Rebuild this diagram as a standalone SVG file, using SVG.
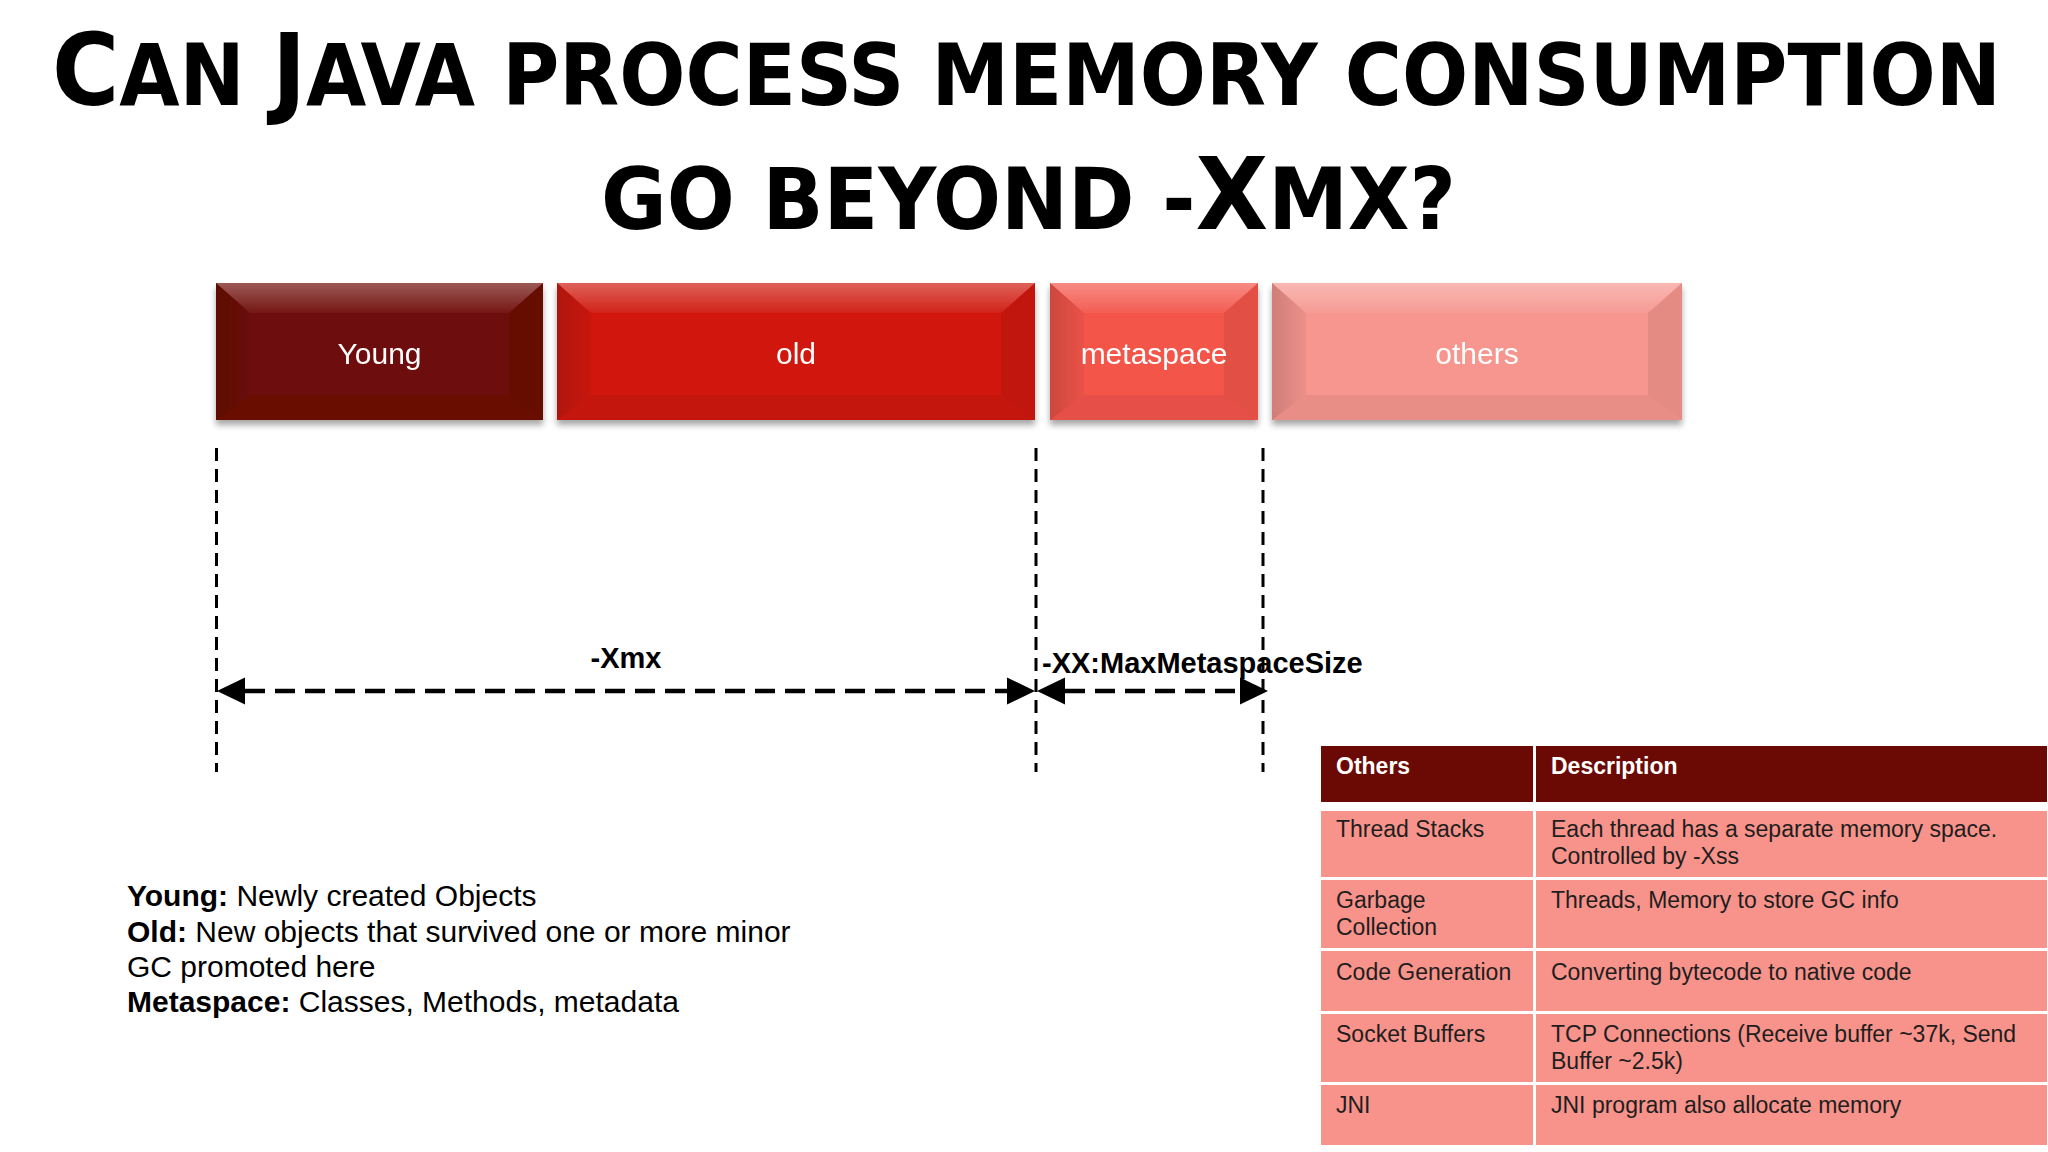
<svg xmlns="http://www.w3.org/2000/svg" width="2048" height="1152" viewBox="0 0 2048 1152">
<style>
.title{font-family:"DejaVu Sans Condensed","DejaVu Sans","Liberation Sans",sans-serif;font-stretch:condensed;font-weight:bold;text-transform:uppercase;fill:#000}
.big{font-size:100px}
.sm{font-size:85px}
.barlbl{font-family:"Liberation Sans",Arial,sans-serif;font-size:30px;fill:#fff;text-anchor:middle}
.bt{fill:url(#gTop)}
.bl{fill:url(#gLeft)}
.br{fill:#000;fill-opacity:.07}
.bb{fill:#000;fill-opacity:.05}
.vdash{stroke:#000;stroke-width:3;stroke-dasharray:13 8;fill:none}
.arr{stroke:#000;stroke-width:4.5;stroke-dasharray:20 10;fill:none;marker-start:url(#ah);marker-end:url(#ah)}
.lbl{font-family:"Liberation Sans",Arial,sans-serif;font-size:29px;font-weight:bold;fill:#000}
.leg{font-family:"Liberation Sans",Arial,sans-serif;font-size:30px;fill:#000}
.b{font-weight:bold}
.th{fill:#6b0a05}
.td{fill:#f8938b}
.tht{font-family:"Liberation Sans",Arial,sans-serif;font-size:23px;font-weight:bold;fill:#fff}
.tdt{font-family:"Liberation Sans",Arial,sans-serif;font-size:23px;fill:#1e1e1e}
</style>
<defs>
<linearGradient id="gTop" x1="0" y1="0" x2="0" y2="1">
<stop offset="0" stop-color="#fff" stop-opacity=".32"/>
<stop offset="1" stop-color="#fff" stop-opacity=".05"/>
</linearGradient>
<linearGradient id="gLeft" x1="0" y1="0" x2="1" y2="0">
<stop offset="0" stop-color="#000" stop-opacity=".16"/>
<stop offset="1" stop-color="#000" stop-opacity=".04"/>
</linearGradient>
<filter id="sh" x="-5%" y="-10%" width="110%" height="130%">
<feDropShadow dx="0" dy="5" stdDeviation="3" flood-color="#000" flood-opacity=".35"/>
</filter>
<marker id="ah" markerUnits="userSpaceOnUse" viewBox="0 -14 28 28" refX="0" refY="0" markerWidth="28" markerHeight="28" orient="auto-start-reverse">
<path d="M0,-13.5 L28,0 L0,13.5 Z" fill="#000"/>
</marker>
</defs>
<rect width="2048" height="1152" fill="#fff"/>

<g id="title">
<text class="title" x="52" y="105" textLength="1949" lengthAdjust="spacingAndGlyphs"><tspan class="big">C</tspan><tspan class="sm">an </tspan><tspan class="big">J</tspan><tspan class="sm">ava process memory consumption</tspan></text>
<text class="title" x="601" y="229" textLength="855" lengthAdjust="spacingAndGlyphs"><tspan class="sm">go beyond -</tspan><tspan class="big">X</tspan><tspan class="sm">mx?</tspan></text>
</g>

<g id="young" filter="url(#sh)">
<rect x="216" y="283" width="327" height="137" fill="#6e0b07"/>
<polygon class="bt" points="216,283 543,283 509,313 250,313"/>
<polygon class="bl" points="216,283 250,313 250,395 216,420"/>
<polygon class="br" points="543,283 509,313 509,395 543,420"/>
<polygon class="bb" points="216,420 250,395 509,395 543,420"/>
<text class="barlbl" x="379.5" y="364">Young</text>
</g>
<g id="old" filter="url(#sh)">
<rect x="557" y="283" width="478" height="137" fill="#d0170c"/>
<polygon class="bt" points="557,283 1035,283 1001,313 591,313"/>
<polygon class="bl" points="557,283 591,313 591,395 557,420"/>
<polygon class="br" points="1035,283 1001,313 1001,395 1035,420"/>
<polygon class="bb" points="557,420 591,395 1001,395 1035,420"/>
<text class="barlbl" x="796" y="364">old</text>
</g>
<g id="metaspace" filter="url(#sh)">
<rect x="1050" y="283" width="208" height="137" fill="#f3554a"/>
<polygon class="bt" points="1050,283 1258,283 1224,313 1084,313"/>
<polygon class="bl" points="1050,283 1084,313 1084,395 1050,420"/>
<polygon class="br" points="1258,283 1224,313 1224,395 1258,420"/>
<polygon class="bb" points="1050,420 1084,395 1224,395 1258,420"/>
<text class="barlbl" x="1154" y="364">metaspace</text>
</g>
<g id="others" filter="url(#sh)">
<rect x="1272" y="283" width="410" height="137" fill="#f6968f"/>
<polygon class="bt" points="1272,283 1682,283 1648,313 1306,313"/>
<polygon class="bl" points="1272,283 1306,313 1306,395 1272,420"/>
<polygon class="br" points="1682,283 1648,313 1648,395 1682,420"/>
<polygon class="bb" points="1272,420 1306,395 1648,395 1682,420"/>
<text class="barlbl" x="1477" y="364">others</text>
</g>

<g id="connectors">
<line class="vdash" x1="216.5" y1="448" x2="216.5" y2="772"/>
<line class="vdash" x1="1036" y1="448" x2="1036" y2="772"/>
<line class="vdash" x1="1263" y1="448" x2="1263" y2="772"/>
<line class="arr" x1="245" y1="691" x2="1007" y2="691"/>
<line class="arr" x1="1065" y1="691" x2="1240" y2="691"/>
</g>

<g id="labels">
<text class="lbl" x="626" y="668" text-anchor="middle">-Xmx</text>
<text class="lbl" x="1042" y="673">-XX:MaxMetaspaceSize</text>
</g>

<g id="legend">
<text class="leg" x="127" y="906"><tspan class="b">Young:</tspan> Newly created Objects</text>
<text class="leg" x="127" y="942"><tspan class="b">Old:</tspan> New objects that survived one or more minor</text>
<text class="leg" x="127" y="977">GC promoted here</text>
<text class="leg" x="127" y="1012"><tspan class="b">Metaspace:</tspan> Classes, Methods, metadata</text>
</g>

<g id="table">
<rect class="th" x="1321" y="746" width="212" height="56"/>
<rect class="th" x="1536" y="746" width="511" height="56"/>
<text class="tht" x="1336" y="774">Others</text>
<text class="tht" x="1551" y="774">Description</text>

<rect class="td" x="1321" y="811" width="212" height="66"/>
<rect class="td" x="1536" y="811" width="511" height="66"/>
<text class="tdt" x="1336" y="837">Thread Stacks</text>
<text class="tdt" x="1551" y="837">Each thread has a separate memory space.</text>
<text class="tdt" x="1551" y="864">Controlled by -Xss</text>

<rect class="td" x="1321" y="880" width="212" height="68"/>
<rect class="td" x="1536" y="880" width="511" height="68"/>
<text class="tdt" x="1336" y="908">Garbage</text>
<text class="tdt" x="1336" y="935">Collection</text>
<text class="tdt" x="1551" y="908">Threads, Memory to store GC info</text>

<rect class="td" x="1321" y="951" width="212" height="60"/>
<rect class="td" x="1536" y="951" width="511" height="60"/>
<text class="tdt" x="1336" y="980">Code Generation</text>
<text class="tdt" x="1551" y="980">Converting bytecode to native code</text>

<rect class="td" x="1321" y="1014" width="212" height="68"/>
<rect class="td" x="1536" y="1014" width="511" height="68"/>
<text class="tdt" x="1336" y="1042">Socket Buffers</text>
<text class="tdt" x="1551" y="1042">TCP Connections (Receive buffer ~37k, Send</text>
<text class="tdt" x="1551" y="1069">Buffer ~2.5k)</text>

<rect class="td" x="1321" y="1085" width="212" height="60"/>
<rect class="td" x="1536" y="1085" width="511" height="60"/>
<text class="tdt" x="1336" y="1113">JNI</text>
<text class="tdt" x="1551" y="1113">JNI program also allocate memory</text>
</g>
</svg>
